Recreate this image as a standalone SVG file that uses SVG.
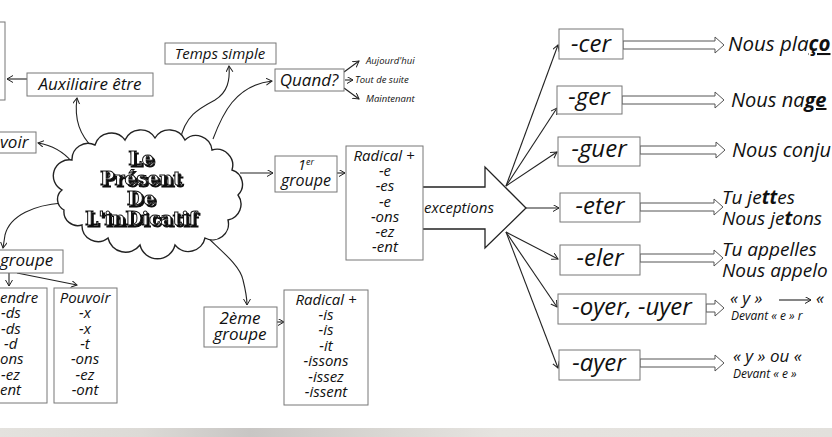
<svg xmlns="http://www.w3.org/2000/svg" width="832" height="437" viewBox="0 0 832 437">
<style>
.bx{fill:#fff;stroke:#777;stroke-width:1}
.t{font-family:"Open Sans","Liberation Sans",sans-serif;font-style:italic;fill:#111}
.c{text-anchor:middle}
.ln{fill:none;stroke:#222;stroke-width:1.1}
.ha{fill:#fff;stroke:#555;stroke-width:1}
.ttl{font-family:"DejaVu Serif",serif;font-weight:bold;font-size:19px;text-anchor:middle}
</style>
<defs>
<marker id="ar" markerWidth="8" markerHeight="8" refX="6" refY="3.5" orient="auto" markerUnits="userSpaceOnUse">
<path d="M0,0 L6,3.5 L0,7" fill="none" stroke="#222" stroke-width="1"/>
</marker>
<filter id="sh" x="-10%" y="-10%" width="130%" height="140%">
<feDropShadow dx="2" dy="2" stdDeviation="0" flood-color="#111" flood-opacity="1"/>
</filter>
<linearGradient id="band" x1="0" y1="0" x2="1" y2="0">
<stop offset="0" stop-color="#e4e2de"/>
<stop offset="0.17" stop-color="#dcdad6"/>
<stop offset="0.3" stop-color="#c8c6c4"/>
<stop offset="0.45" stop-color="#d8d6d2"/>
<stop offset="0.6" stop-color="#e6e4e0"/>
<stop offset="1" stop-color="#e2e0dc"/>
</linearGradient>
</defs>
<rect width="832" height="437" fill="#fff"/>
<rect x="0" y="428" width="832" height="9" fill="url(#band)"/>

<g id="connectors">
<line class="ln" x1="27" y1="79" x2="7" y2="79" marker-end="url(#ar)"/>
<path class="ln" d="M93,148 C80,135 74,120 77,98" marker-end="url(#ar)"/>
<path class="ln" d="M180,141 C185,115 200,108 215,100 C228,92 230,80 229,66" marker-end="url(#ar)"/>
<path class="ln" d="M213,139 C222,115 235,85 272,81" marker-end="url(#ar)"/>
<path class="ln" d="M72,162 C62,150 50,145 38,143" marker-end="url(#ar)"/>
<path class="ln" d="M62,203 C35,205 10,215 5,235 L3,248" marker-end="url(#ar)"/>
<line class="ln" x1="240" y1="173" x2="273" y2="173" marker-end="url(#ar)"/>
<path class="ln" d="M203,233 C220,250 240,265 243,280 C246,292 247,298 247,305" marker-end="url(#ar)"/>
<line class="ln" x1="344" y1="72" x2="359" y2="61" marker-end="url(#ar)"/>
<line class="ln" x1="345" y1="80" x2="353" y2="80" marker-end="url(#ar)"/>
<line class="ln" x1="344" y1="88" x2="359" y2="99" marker-end="url(#ar)"/>
<line class="ln" x1="9" y1="273" x2="9" y2="286" marker-end="url(#ar)"/>
<line class="ln" x1="17" y1="273" x2="77" y2="285" marker-end="url(#ar)"/>
<line class="ln" x1="337" y1="173" x2="345" y2="173" marker-end="url(#ar)"/>
<line class="ln" x1="277" y1="322" x2="284" y2="322" marker-end="url(#ar)"/>
<path d="M423,187 L485,187 L485,167 L526,208 L485,248 L485,229 L423,229" fill="#fff" stroke="#222" stroke-width="1.3"/>
<line class="ln" x1="506" y1="186" x2="558" y2="45" marker-end="url(#ar)"/>
<line class="ln" x1="506" y1="186" x2="557" y2="108" marker-end="url(#ar)"/>
<line class="ln" x1="506" y1="186" x2="557" y2="152" marker-end="url(#ar)"/>
<line class="ln" x1="526" y1="208" x2="559" y2="208" marker-end="url(#ar)"/>
<line class="ln" x1="506" y1="232" x2="558" y2="259" marker-end="url(#ar)"/>
<line class="ln" x1="506" y1="232" x2="557" y2="307" marker-end="url(#ar)"/>
<line class="ln" x1="506" y1="232" x2="558" y2="368" marker-end="url(#ar)"/>
<path class="ha" d="M623,41 L715,41 L715,37 L724,45 L715,53 L715,49 L623,49 Z"/>
<path class="ha" d="M622,96 L715,96 L715,92 L724,100 L715,108 L715,104 L622,104 Z"/>
<path class="ha" d="M640,146 L716,146 L716,142 L725,150 L716,158 L716,154 L640,154 Z"/>
<path class="ha" d="M640,203 L714,203 L714,199 L723,207 L714,215 L714,211 L640,211 Z"/>
<path class="ha" d="M640,254 L714,254 L714,250 L723,258 L714,266 L714,262 L640,262 Z"/>
<path class="ha" d="M706,304 L715,304 L715,300 L724,308 L715,316 L715,312 L706,312 Z"/>
<path class="ha" d="M640,359 L715,359 L715,355 L724,363 L715,371 L715,367 L640,367 Z"/>
<line class="ln" x1="779" y1="300" x2="811" y2="300" marker-end="url(#ar)"/>
</g>

<g id="n-left-top"><rect class="bx" x="-2" y="22" width="7" height="78"/></g>
<g id="n-auxiliaire"><rect class="bx" x="27" y="73" width="126" height="23"/><text class="t c" x="90" y="90" font-size="17">Auxiliaire être</text></g>
<g id="n-temps"><rect class="bx" x="165" y="43" width="111" height="21"/><text class="t c" x="220" y="59" font-size="15">Temps simple</text></g>
<g id="n-quand"><rect class="bx" x="275" y="69" width="69" height="22"/><text class="t c" x="309" y="86" font-size="17">Quand?</text></g>
<g id="n-quand-items">
<text class="t" x="366" y="64" font-size="9.5">Aujourd'hui</text>
<text class="t" x="355" y="83" font-size="9.5">Tout de suite</text>
<text class="t" x="366" y="102" font-size="9.5">Maintenant</text>
</g>
<g id="n-avoir"><rect class="bx" x="-2" y="132" width="38" height="21"/><text class="t" x="0" y="148" font-size="17">voir</text></g>
<g id="n-3groupe"><rect class="bx" x="-2" y="250" width="65" height="23"/><text class="t" x="0" y="266" font-size="17">groupe</text></g>
<g id="n-prendre"><rect class="bx" x="-2" y="288" width="49" height="115"/>
<text class="t" font-size="15"><tspan x="0" y="303">endre</tspan><tspan x="1" y="318">-ds</tspan><tspan x="1" y="334">-ds</tspan><tspan x="4" y="349">-d</tspan><tspan x="0" y="364">ons</tspan><tspan x="1" y="380">-ez</tspan><tspan x="0" y="395">ent</tspan></text></g>
<g id="n-pouvoir"><rect class="bx" x="54" y="288" width="63" height="115"/>
<text class="t c" font-size="15"><tspan x="85" y="303">Pouvoir</tspan><tspan x="85" y="318">-x</tspan><tspan x="85" y="334">-x</tspan><tspan x="85" y="349">-t</tspan><tspan x="85" y="364">-ons</tspan><tspan x="85" y="380">-ez</tspan><tspan x="85" y="395">-ont</tspan></text></g>

<g id="n-cloud">
<path d="M62,190 A16,16 0 0 1 72,160 A16,16 0 0 1 95,145 A17,17 0 0 1 125,140 A17,17 0 0 1 155,138 A17,17 0 0 1 185,140 A16,16 0 0 1 212,150 A16,16 0 0 1 232,170 A15,15 0 0 1 238,195 A16,16 0 0 1 228,220 A16,16 0 0 1 205,238 A17,17 0 0 1 175,245 A18,18 0 0 1 140,245 A18,18 0 0 1 108,238 A16,16 0 0 1 82,225 A14,14 0 0 1 64,210 A12,12 0 0 1 62,190 Z" fill="#fff" stroke="#222" stroke-width="1.4"/>
<g class="ttl" fill="#fff" stroke="#111" stroke-width="1" filter="url(#sh)">
<text x="141" y="165">Le</text><text x="141" y="185">Présent</text><text x="141" y="205">De</text><text x="141" y="225">L'inDicatif</text>
</g>
</g>

<g id="n-1groupe"><rect class="bx" x="275" y="156" width="62" height="36"/>
<text class="t c" x="306" y="170" font-size="15">1<tspan font-size="9" dy="-5">er</tspan></text>
<text class="t c" x="306" y="186" font-size="16">groupe</text></g>
<g id="n-radical1"><rect class="bx" x="346" y="146" width="77" height="114"/>
<text class="t c" font-size="15"><tspan x="384" y="161">Radical +</tspan><tspan x="385" y="176">-e</tspan><tspan x="385" y="191">-es</tspan><tspan x="385" y="207">-e</tspan><tspan x="385" y="222">-ons</tspan><tspan x="385" y="237">-ez</tspan><tspan x="385" y="252">-ent</tspan></text></g>
<g id="n-exceptions"><text class="t" x="424" y="213" font-size="15">exceptions</text></g>

<g id="n-2groupe"><rect class="bx" x="204" y="307" width="73" height="40"/>
<text class="t c" font-size="17"><tspan x="240" y="324">2ème</tspan><tspan x="240" y="340">groupe</tspan></text></g>
<g id="n-radical2"><rect class="bx" x="284" y="290" width="84" height="115"/>
<text class="t c" font-size="15"><tspan x="326" y="305">Radical +</tspan><tspan x="326" y="320">-is</tspan><tspan x="326" y="335">-is</tspan><tspan x="326" y="351">-it</tspan><tspan x="326" y="366">-issons</tspan><tspan x="326" y="382">-issez</tspan><tspan x="326" y="397">-issent</tspan></text></g>

<g id="n-cer"><rect class="bx" x="559" y="29" width="64" height="30"/><text class="t c" x="591" y="52" font-size="24">-cer</text></g>
<g id="n-ger"><rect class="bx" x="557" y="86" width="65" height="28"/><text class="t c" x="589" y="105" font-size="24">-ger</text></g>
<g id="n-guer"><rect class="bx" x="558" y="137" width="82" height="29"/><text class="t c" x="599" y="157" font-size="24">-guer</text></g>
<g id="n-eter"><rect class="bx" x="560" y="193" width="80" height="29"/><text class="t c" x="600" y="214" font-size="24">-eter</text></g>
<g id="n-eler"><rect class="bx" x="560" y="245" width="80" height="30"/><text class="t c" x="600" y="266" font-size="24">-eler</text></g>
<g id="n-oyer"><rect class="bx" x="558" y="294" width="148" height="30"/><text class="t c" x="632" y="315" font-size="24">-oyer, -uyer</text></g>
<g id="n-ayer"><rect class="bx" x="559" y="350" width="81" height="30"/><text class="t c" x="599" y="371" font-size="24">-ayer</text></g>

<g id="n-ex-cer"><text class="t" x="728" y="51" font-size="20.5">Nous pla<tspan font-weight="bold" text-decoration="underline">ço</tspan></text></g>
<g id="n-ex-ger"><text class="t" x="731" y="107" font-size="20">Nous na<tspan font-weight="bold" text-decoration="underline">ge</tspan></text></g>
<g id="n-ex-guer"><text class="t" x="732" y="157" font-size="20">Nous conju</text></g>
<g id="n-ex-eter"><text class="t" font-size="19"><tspan x="722" y="204">Tu je<tspan font-weight="bold">tt</tspan>es</tspan><tspan x="722" y="225">Nous je<tspan font-weight="bold">t</tspan>ons</tspan></text></g>
<g id="n-ex-eler"><text class="t" font-size="19"><tspan x="722" y="256">Tu appelles</tspan><tspan x="722" y="277">Nous appelo</tspan></text></g>
<g id="n-ex-oyer"><text class="t" x="730" y="304" font-size="17">« y »</text><text class="t" x="816" y="304" font-size="17">«</text><text class="t" x="731" y="320" font-size="12">Devant « e » r</text></g>
<g id="n-ex-ayer"><text class="t" x="733" y="362" font-size="17">« y » ou «</text><text class="t" x="733" y="378" font-size="12">Devant « e »</text></g>
</svg>
